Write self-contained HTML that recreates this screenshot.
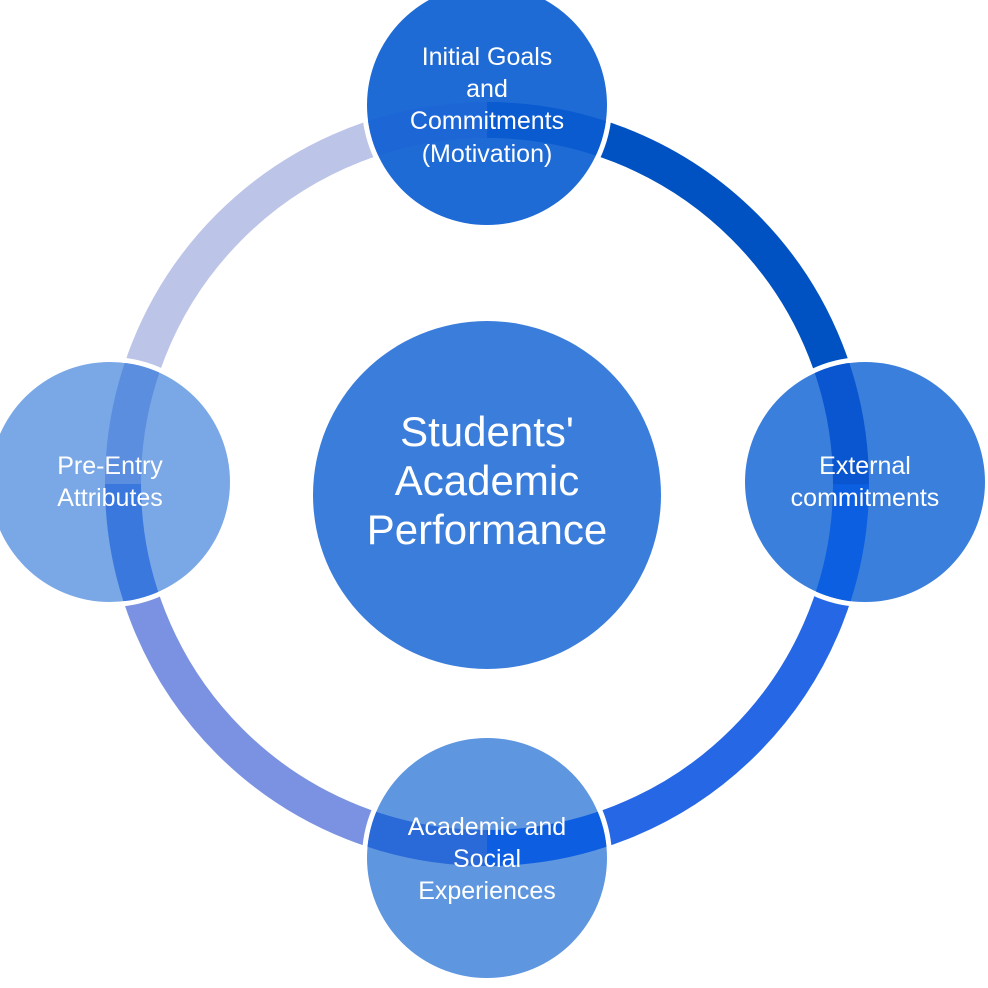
<!DOCTYPE html>
<html><head><meta charset="utf-8"><style>
html,body{margin:0;padding:0;background:#fff;}
svg{display:block;}
text{font-family:"Liberation Sans",sans-serif;fill:#fff;text-anchor:middle;}
</style></head><body>
<svg width="988" height="988" viewBox="0 0 988 988" xmlns="http://www.w3.org/2000/svg">
<defs>
<clipPath id="ct"><circle cx="487" cy="105" r="120"/></clipPath>
<clipPath id="cr"><circle cx="865" cy="482" r="120"/></clipPath>
<clipPath id="cb"><circle cx="487" cy="858" r="120"/></clipPath>
<clipPath id="cl"><circle cx="110" cy="482" r="120"/></clipPath>
</defs>
<g fill="none" stroke-width="36">
<circle cx="487" cy="484" r="364" stroke="#2667e6" stroke-dasharray="571.8 1715.3" transform="rotate(0 487 484)"/>
<circle cx="487" cy="484" r="364" stroke="#7b92e2" stroke-dasharray="571.8 1715.3" transform="rotate(90 487 484)"/>
<circle cx="487" cy="484" r="364" stroke="#bcc4e8" stroke-dasharray="571.8 1715.3" transform="rotate(180 487 484)"/>
<circle cx="487" cy="484" r="364" stroke="#0052c2" stroke-dasharray="571.8 1715.3" transform="rotate(270 487 484)"/>
</g>
<g fill="#fff">
<circle cx="487" cy="105" r="125"/>
<circle cx="865" cy="482" r="125"/>
<circle cx="487" cy="858" r="125"/>
<circle cx="110" cy="482" r="125"/>
</g>
<circle cx="487" cy="105" r="120" fill="#1f6bd6"/>
<circle cx="865" cy="482" r="120" fill="#3b7fdc"/>
<circle cx="487" cy="858" r="120" fill="#5e96e0"/>
<circle cx="110" cy="482" r="120" fill="#7aa8e6"/>
<g fill="none" stroke-width="36">
<g clip-path="url(#ct)">
<circle cx="487" cy="484" r="364" stroke="#1d66d6" stroke-dasharray="571.8 1715.3" transform="rotate(180 487 484)"/>
<circle cx="487" cy="484" r="364" stroke="#0a5bd0" stroke-dasharray="571.8 1715.3" transform="rotate(270 487 484)"/>
</g>
<g clip-path="url(#cr)">
<circle cx="487" cy="484" r="364" stroke="#0b5fe0" stroke-dasharray="571.8 1715.3" transform="rotate(0 487 484)"/>
<circle cx="487" cy="484" r="364" stroke="#0a56d0" stroke-dasharray="571.8 1715.3" transform="rotate(270 487 484)"/>
</g>
<g clip-path="url(#cb)">
<circle cx="487" cy="484" r="364" stroke="#0d5ee0" stroke-dasharray="571.8 1715.3" transform="rotate(0 487 484)"/>
<circle cx="487" cy="484" r="364" stroke="#2a6ad8" stroke-dasharray="571.8 1715.3" transform="rotate(90 487 484)"/>
</g>
<g clip-path="url(#cl)">
<circle cx="487" cy="484" r="364" stroke="#3a78de" stroke-dasharray="571.8 1715.3" transform="rotate(90 487 484)"/>
<circle cx="487" cy="484" r="364" stroke="#5b8ede" stroke-dasharray="571.8 1715.3" transform="rotate(180 487 484)"/>
</g>
</g>
<circle cx="487" cy="495" r="174" fill="#3a7ddb"/>
<g font-size="42">
<text x="487" y="446">Students'</text>
<text x="487" y="495">Academic</text>
<text x="487" y="544">Performance</text>
</g>
<g font-size="25">
<text x="487" y="65">Initial Goals</text>
<text x="487" y="97">and</text>
<text x="487" y="129">Commitments</text>
<text x="487" y="162">(Motivation)</text>
<text x="865" y="474">External</text>
<text x="865" y="506">commitments</text>
<text x="110" y="474">Pre-Entry</text>
<text x="110" y="506">Attributes</text>
<text x="487" y="835">Academic and</text>
<text x="487" y="867">Social</text>
<text x="487" y="899">Experiences</text>
</g>
</svg>
</body></html>
